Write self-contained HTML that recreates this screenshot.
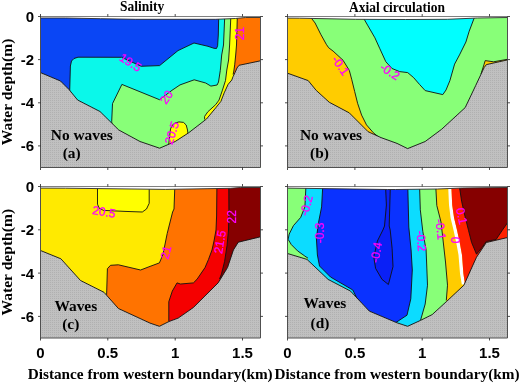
<!DOCTYPE html>
<html><head><meta charset="utf-8"><title>Salinity and axial circulation</title>
<style>html,body{margin:0;padding:0;background:#fff;}svg{display:block;}</style></head>
<body><svg width="520" height="383" viewBox="0 0 520 383">
<defs><pattern id="gp" width="2" height="2" patternUnits="userSpaceOnUse"><rect width="2" height="2" fill="#c0c0c0"/><rect width="1" height="1" fill="#b0b0b0"/></pattern><clipPath id="cla"><rect x="40.5" y="16.5" width="220.0" height="151.0"/></clipPath><clipPath id="clb"><rect x="287.5" y="16.5" width="220.0" height="151.0"/></clipPath><clipPath id="clc"><rect x="40.5" y="186.5" width="220.0" height="151.5"/></clipPath><clipPath id="cld"><rect x="287.5" y="186.5" width="220.0" height="151.5"/></clipPath></defs>
<rect width="520" height="383" fill="#fff"/>
<g clip-path="url(#cla)"><rect x="40.5" y="17.2" width="220.0" height="150.3" fill="#0a46f5"/><polygon points="218.7,17.2 218.3,35.0 217.6,45.8 216.5,48.5 214.0,48.3 208.0,46.3 194.0,43.0 178.0,50.6 159.6,65.6 141.2,66.3 121.5,57.3 78.0,57.2 74.0,58.5 71.5,61.0 70.4,66.0 70.0,80.0 69.7,91.0 60.0,170.0 262.0,170.0 262.0,17.2" fill="#0af8ea"/><polygon points="224.7,17.2 223.5,45.0 221.7,55.0 220.3,70.4 218.5,82.0 217.1,85.0 210.9,86.1 205.7,83.0 194.2,79.8 180.0,84.9 172.0,90.3 159.5,99.7 121.9,84.4 112.5,103.6 111.7,121.6 112.0,124.0 105.0,170.0 262.0,170.0 262.0,17.2" fill="#88ff78"/><polygon points="230.8,17.2 229.6,45.0 228.6,60.0 226.8,70.0 225.5,80.5 222.2,90.9 219.0,100.1 215.7,104.6 207.8,111.8 204.6,116.4 204.6,119.5 200.0,170.0 262.0,170.0 262.0,17.2" fill="#ffff00"/><polygon points="168.5,146.0 170.5,129.0 172.0,125.5 175.0,123.0 179.0,121.9 183.5,122.4 186.2,125.0 187.5,130.0 188.0,134.0 188.0,150.0 168.0,150.0" fill="#ffff00"/><polygon points="237.3,17.2 236.5,45.0 235.7,55.0 234.7,64.8 233.7,72.0 233.1,74.5 240.0,74.0 262.0,60.0 262.0,17.2" fill="#ff7300"/><polyline points="218.7,17.2 218.3,35.0 217.6,45.8 216.5,48.5 214.0,48.3 208.0,46.3 194.0,43.0 178.0,50.6 159.6,65.6 141.2,66.3 121.5,57.3 78.0,57.2 74.0,58.5 71.5,61.0 70.4,66.0 70.0,80.0 69.7,91.0" fill="none" stroke="#111" stroke-width="0.9" stroke-linejoin="round"/><polyline points="224.7,17.2 223.5,45.0 221.7,55.0 220.3,70.4 218.5,82.0 217.1,85.0 210.9,86.1 205.7,83.0 194.2,79.8 180.0,84.9 172.0,90.3 159.5,99.7 121.9,84.4 112.5,103.6 111.7,121.6 112.0,124.0" fill="none" stroke="#111" stroke-width="0.9" stroke-linejoin="round"/><polyline points="230.8,17.2 229.6,45.0 228.6,60.0 226.8,70.0 225.5,80.5 222.2,90.9 219.0,100.1 215.7,104.6 207.8,111.8 204.6,116.4 204.6,119.5" fill="none" stroke="#111" stroke-width="0.9" stroke-linejoin="round"/><polyline points="168.5,146.0 170.5,129.0 172.0,125.5 175.0,123.0 179.0,121.9 183.5,122.4 186.2,125.0 187.5,130.0 188.0,134.0" fill="none" stroke="#111" stroke-width="0.9" stroke-linejoin="round"/><polyline points="237.3,17.2 236.5,45.0 235.7,55.0 234.7,64.8 233.7,72.0 233.1,74.5" fill="none" stroke="#111" stroke-width="0.9" stroke-linejoin="round"/><polygon points="40.5,72.6 60.5,81.0 69.0,89.5 77.6,100.0 100.0,111.5 118.8,130.0 140.0,141.5 159.6,148.2 175.2,141.5 188.5,132.9 206.5,119.0 215.7,107.9 220.9,101.4 224.2,92.9 228.1,84.4 231.8,80.0 233.1,76.5 235.0,72.6 237.0,68.0 239.0,65.3 260.5,60.8 262.0,170.0 39.0,170.0" fill="url(#gp)"/><polyline points="40.5,72.6 60.5,81.0 69.0,89.5 77.6,100.0 100.0,111.5 118.8,130.0 140.0,141.5 159.6,148.2 175.2,141.5 188.5,132.9 206.5,119.0 215.7,107.9 220.9,101.4 224.2,92.9 228.1,84.4 231.8,80.0 233.1,76.5 235.0,72.6 237.0,68.0 239.0,65.3 260.5,60.8" fill="none" stroke="#111" stroke-width="0.9" stroke-linejoin="round"/><text x="130.4" y="62.6" transform="rotate(32 130.4 62.6)" font-family="Liberation Sans, Arial, sans-serif" font-size="12" fill="#ff00ff" stroke="#ff00ff" stroke-width="0.3" text-anchor="middle" dominant-baseline="central">19.5</text><text x="166.5" y="97.3" transform="rotate(-55 166.5 97.3)" font-family="Liberation Sans, Arial, sans-serif" font-size="12" fill="#ff00ff" stroke="#ff00ff" stroke-width="0.3" text-anchor="middle" dominant-baseline="central">20</text><text x="239.6" y="33.5" transform="rotate(-90 239.6 33.5)" font-family="Liberation Sans, Arial, sans-serif" font-size="12" fill="#ff00ff" stroke="#ff00ff" stroke-width="0.3" text-anchor="middle" dominant-baseline="central">21</text><text x="172" y="133" transform="rotate(-72 172 133)" font-family="Liberation Sans, Arial, sans-serif" font-size="12" fill="#ff00ff" stroke="#ff00ff" stroke-width="0.3" text-anchor="middle" dominant-baseline="central">20.5</text></g><g clip-path="url(#cla)"><polygon points="40.5,18.0 65.5,18.0 100.5,18.7 135.5,19.3 215.5,19.3 235.5,18.5 245.5,17.5 260.5,17.5 261.5,15.5 39.5,15.5" fill="#fff"/><polyline points="40.5,18.0 65.5,18.0 100.5,18.7 135.5,19.3 215.5,19.3 235.5,18.5 245.5,17.5 260.5,17.5" fill="none" stroke="#2a2a2a" stroke-width="0.9" stroke-linejoin="round"/></g><path d="M40.0,16.5h221.0" stroke="#808080" stroke-width="1"/><path d="M40.5,16.5V167.5H260.5V16.5" fill="none" stroke="#505050" stroke-width="1"/><path d="M40.5,167.5v2.5M40.5,16.5v-2.5M107.8,167.5v2.5M107.8,16.5v-2.5M175.2,167.5v2.5M175.2,16.5v-2.5M242.5,167.5v2.5M242.5,16.5v-2.5M40.5,16.5h-2.5M260.5,16.5h2.5M40.5,59.6h-2.5M260.5,59.6h2.5M40.5,102.8h-2.5M260.5,102.8h2.5M40.5,145.9h-2.5M260.5,145.9h2.5" stroke="#222" stroke-width="0.8" fill="none"/><g clip-path="url(#clb)"><rect x="287.5" y="17.2" width="220.0" height="150.3" fill="#88ff78"/><polygon points="310.6,17.2 315.1,23.0 320.7,34.2 326.3,44.3 328.6,47.7 333.1,51.1 343.0,60.2 349.3,70.4 351.8,79.8 354.7,91.6 357.6,103.3 361.6,115.1 366.5,124.9 373.3,132.7 378.2,136.7 380.0,170.0 286.0,170.0 286.0,17.2" fill="#ffcc00"/><polygon points="363.0,17.2 368.0,25.9 374.9,37.8 379.9,48.8 385.8,61.7 392.0,68.5 399.7,71.6 407.7,72.6 413.6,77.6 419.6,84.5 425.2,90.6 442.8,94.6 446.0,90.0 449.9,80.6 454.6,64.1 459.5,54.9 465.9,42.0 469.2,31.2 474.5,17.2" fill="#00ffff"/><polygon points="481.0,74.0 484.0,64.5 485.2,60.6 493.5,61.8 508.0,59.2 508.0,70.0 481.0,80.0" fill="#ffcc00"/><polyline points="310.6,17.2 315.1,23.0 320.7,34.2 326.3,44.3 328.6,47.7 333.1,51.1 343.0,60.2 349.3,70.4 351.8,79.8 354.7,91.6 357.6,103.3 361.6,115.1 366.5,124.9 373.3,132.7 378.2,136.7" fill="none" stroke="#111" stroke-width="0.9" stroke-linejoin="round"/><polyline points="363.0,17.2 368.0,25.9 374.9,37.8 379.9,48.8 385.8,61.7 392.0,68.5 399.7,71.6 407.7,72.6 413.6,77.6 419.6,84.5 425.2,90.6 442.8,94.6 446.0,90.0 449.9,80.6 454.6,64.1 459.5,54.9 465.9,42.0 469.2,31.2 474.5,17.2" fill="none" stroke="#111" stroke-width="0.9" stroke-linejoin="round"/><polyline points="481.0,74.0 484.0,64.5 485.2,60.6 493.5,61.8 508.0,59.2" fill="none" stroke="#111" stroke-width="0.9" stroke-linejoin="round"/><polygon points="287.5,73.2 308.2,80.6 316.2,90.4 329.3,102.3 349.3,112.9 368.1,131.7 381.0,137.6 397.0,143.4 407.6,148.6 425.2,141.5 441.6,129.3 465.2,107.6 475.8,85.3 484.1,67.6 486.4,64.6 507.6,59.9 509.0,170.0 286.0,170.0" fill="url(#gp)"/><polyline points="287.5,73.2 308.2,80.6 316.2,90.4 329.3,102.3 349.3,112.9 368.1,131.7 381.0,137.6 397.0,143.4 407.6,148.6 425.2,141.5 441.6,129.3 465.2,107.6 475.8,85.3 484.1,67.6 486.4,64.6 507.6,59.9" fill="none" stroke="#111" stroke-width="0.9" stroke-linejoin="round"/><text x="340.5" y="65.7" transform="rotate(55 340.5 65.7)" font-family="Liberation Sans, Arial, sans-serif" font-size="12" fill="#ff00ff" stroke="#ff00ff" stroke-width="0.3" text-anchor="middle" dominant-baseline="central">-0.1</text><text x="389.8" y="71.6" transform="rotate(33 389.8 71.6)" font-family="Liberation Sans, Arial, sans-serif" font-size="12" fill="#ff00ff" stroke="#ff00ff" stroke-width="0.3" text-anchor="middle" dominant-baseline="central">-0.2</text></g><g clip-path="url(#clb)"><polygon points="287.5,18.1 299.5,18.2 355.5,19.3 405.5,19.5 447.5,19.3 477.5,18.0 507.5,17.5 508.5,15.5 286.5,15.5" fill="#fff"/><polyline points="287.5,18.1 299.5,18.2 355.5,19.3 405.5,19.5 447.5,19.3 477.5,18.0 507.5,17.5" fill="none" stroke="#2a2a2a" stroke-width="0.9" stroke-linejoin="round"/></g><path d="M287.0,16.5h221.0" stroke="#808080" stroke-width="1"/><path d="M287.5,16.5V167.5H507.5V16.5" fill="none" stroke="#505050" stroke-width="1"/><path d="M287.5,167.5v2.5M287.5,16.5v-2.5M354.9,167.5v2.5M354.9,16.5v-2.5M422.2,167.5v2.5M422.2,16.5v-2.5M489.5,167.5v2.5M489.5,16.5v-2.5M287.5,16.5h-2.5M507.5,16.5h2.5M287.5,59.6h-2.5M507.5,59.6h2.5M287.5,102.8h-2.5M507.5,102.8h2.5M287.5,145.9h-2.5M507.5,145.9h2.5" stroke="#222" stroke-width="0.8" fill="none"/><g clip-path="url(#clc)"><rect x="40.5" y="187.2" width="220.0" height="150.8" fill="#ffea00"/><polygon points="97.5,187.2 97.5,204.1 99.0,208.0 103.5,210.4 125.0,211.4 142.3,212.0 146.5,209.0 149.2,203.3 149.2,187.2" fill="#ffff00"/><polygon points="174.8,187.2 174.0,209.0 172.6,212.0 167.2,233.5 162.9,254.7 159.4,262.9 150.0,266.4 140.6,270.0 118.4,264.8 110.5,265.3 107.4,268.7 106.6,294.9 100.0,345.0 262.0,345.0 262.0,187.2" fill="#ff7300"/><polygon points="216.9,187.2 216.6,216.0 216.0,230.0 214.0,241.0 212.0,250.0 208.5,259.4 205.0,267.6 197.0,279.3 193.4,282.9 180.5,284.0 177.0,282.9 172.3,291.1 168.8,301.7 168.8,321.6 168.0,345.0 262.0,345.0 262.0,187.2" fill="#f50000"/><polygon points="228.8,187.2 228.9,209.8 228.5,230.0 227.0,245.7 224.6,261.4 221.5,273.9 219.5,279.0 240.0,280.0 262.0,237.0 262.0,187.2" fill="#860000"/><polyline points="97.5,187.2 97.5,204.1 99.0,208.0 103.5,210.4 125.0,211.4 142.3,212.0 146.5,209.0 149.2,203.3 149.2,187.2" fill="none" stroke="#111" stroke-width="0.9" stroke-linejoin="round"/><polyline points="174.8,187.2 174.0,209.0 172.6,212.0 167.2,233.5 162.9,254.7 159.4,262.9 150.0,266.4 140.6,270.0 118.4,264.8 110.5,265.3 107.4,268.7 106.6,294.9" fill="none" stroke="#111" stroke-width="0.9" stroke-linejoin="round"/><polyline points="216.9,187.2 216.6,216.0 216.0,230.0 214.0,241.0 212.0,250.0 208.5,259.4 205.0,267.6 197.0,279.3 193.4,282.9 180.5,284.0 177.0,282.9 172.3,291.1 168.8,301.7 168.8,321.6" fill="none" stroke="#111" stroke-width="0.9" stroke-linejoin="round"/><polyline points="228.8,187.2 228.9,209.8 228.5,230.0 227.0,245.7 224.6,261.4 221.5,273.9 219.5,279.0" fill="none" stroke="#111" stroke-width="0.9" stroke-linejoin="round"/><polygon points="40.5,250.5 60.9,258.8 80.5,280.5 104.0,292.3 118.4,308.5 150.0,323.1 159.4,326.3 168.8,321.6 178.2,318.1 193.4,307.5 218.1,282.9 227.5,267.6 233.4,250.0 238.3,242.2 260.5,236.8 262.0,345.0 39.0,345.0" fill="url(#gp)"/><polyline points="40.5,250.5 60.9,258.8 80.5,280.5 104.0,292.3 118.4,308.5 150.0,323.1 159.4,326.3 168.8,321.6 178.2,318.1 193.4,307.5 218.1,282.9 227.5,267.6 233.4,250.0 238.3,242.2 260.5,236.8" fill="none" stroke="#111" stroke-width="0.9" stroke-linejoin="round"/><text x="104" y="212" transform="rotate(10 104 212)" font-family="Liberation Sans, Arial, sans-serif" font-size="12" fill="#ff00ff" stroke="#ff00ff" stroke-width="0.3" text-anchor="middle" dominant-baseline="central">20.5</text><text x="166" y="252.5" transform="rotate(-75 166 252.5)" font-family="Liberation Sans, Arial, sans-serif" font-size="12" fill="#ff00ff" stroke="#ff00ff" stroke-width="0.3" text-anchor="middle" dominant-baseline="central">21</text><text x="220" y="242" transform="rotate(-80 220 242)" font-family="Liberation Sans, Arial, sans-serif" font-size="12" fill="#ff00ff" stroke="#ff00ff" stroke-width="0.3" text-anchor="middle" dominant-baseline="central">21.5</text><text x="232.3" y="216.8" transform="rotate(-90 232.3 216.8)" font-family="Liberation Sans, Arial, sans-serif" font-size="12" fill="#ff00ff" stroke="#ff00ff" stroke-width="0.3" text-anchor="middle" dominant-baseline="central">22</text></g><g clip-path="url(#clc)"><polygon points="40.5,188.1 65.5,188.2 165.5,189.4 230.5,188.3 240.5,187.5 260.5,187.5 261.5,185.5 39.5,185.5" fill="#fff"/><polyline points="40.5,188.1 65.5,188.2 165.5,189.4 230.5,188.3 240.5,187.5 260.5,187.5" fill="none" stroke="#2a2a2a" stroke-width="0.9" stroke-linejoin="round"/></g><path d="M40.0,186.5h221.0" stroke="#808080" stroke-width="1"/><path d="M40.5,186.5V338.0H260.5V186.5" fill="none" stroke="#505050" stroke-width="1"/><path d="M40.5,338.0v2.5M40.5,186.5v-2.5M107.8,338.0v2.5M107.8,186.5v-2.5M175.2,338.0v2.5M175.2,186.5v-2.5M242.5,338.0v2.5M242.5,186.5v-2.5M40.5,186.5h-2.5M260.5,186.5h2.5M40.5,229.8h-2.5M260.5,229.8h2.5M40.5,273.1h-2.5M260.5,273.1h2.5M40.5,316.4h-2.5M260.5,316.4h2.5" stroke="#222" stroke-width="0.8" fill="none"/><g clip-path="url(#cld)"><rect x="287.5" y="187.2" width="220.0" height="150.8" fill="#88ff78"/><polygon points="305.9,187.2 304.9,206.9 300.7,217.4 293.4,225.7 289.2,234.1 288.1,239.3 291.3,244.6 297.6,250.9 304.9,256.1 308.0,258.2 308.0,300.0 420.0,330.0 420.5,320.4 425.2,304.0 427.5,285.2 426.1,250.0 422.8,231.4 420.3,209.8 419.6,187.2" fill="#0cdcff"/><polygon points="322.7,187.2 321.6,206.9 318.5,222.6 316.4,238.3 317.4,255.0 319.5,266.0 330.5,277.0 352.8,290.0 357.5,299.5 370.4,313.0 394.4,323.5 407.0,315.2 410.8,298.8 412.3,270.0 411.1,250.0 408.8,227.1 407.8,187.2" fill="#0a32ff"/><polygon points="385.6,187.2 386.4,205.0 384.5,226.0 382.9,230.0 377.4,241.0 373.8,257.4 375.6,268.4 382.0,279.4 388.4,284.5 393.0,266.6 392.1,248.3 390.2,230.0 389.2,226.0 390.3,187.2" fill="#0a20f6"/><polygon points="435.8,187.2 436.8,205.5 441.0,222.0 445.5,262.0 447.5,285.2 446.3,300.5 446.0,330.0 470.0,330.0 508.0,187.2" fill="#ffcc00"/><polygon points="448.2,187.2 449.0,205.0 450.6,218.0 453.5,230.0 456.5,244.0 458.5,255.0 460.0,273.5 461.8,284.5 465.0,284.5 463.4,273.5 462.0,255.0 460.0,244.0 457.0,230.0 454.1,218.0 452.2,205.0 451.4,187.2" fill="#ffffff"/><polygon points="451.4,187.2 452.2,205.0 454.1,218.0 457.0,230.0 460.0,244.0 462.0,255.0 463.4,273.5 465.0,284.5 470.0,290.0 508.0,250.0 508.0,187.2" fill="#ff2200"/><polygon points="459.5,187.2 461.6,201.2 464.7,215.0 468.6,230.7 471.6,242.5 476.5,254.2 481.4,248.3 486.3,241.5 496.1,239.5 502.0,230.7 507.5,222.8 508.0,187.2" fill="#860000"/><polyline points="305.9,187.2 304.9,206.9 300.7,217.4 293.4,225.7 289.2,234.1 288.1,239.3 291.3,244.6 297.6,250.9 304.9,256.1 308.0,258.2" fill="none" stroke="#111" stroke-width="0.9" stroke-linejoin="round"/><polyline points="419.6,187.2 420.3,209.8 422.8,231.4 426.1,250.0 427.5,285.2 425.2,304.0 420.5,320.4" fill="none" stroke="#111" stroke-width="0.9" stroke-linejoin="round"/><polyline points="322.7,187.2 321.6,206.9 318.5,222.6 316.4,238.3 317.4,255.0 319.5,266.0 330.5,277.0 352.8,290.0 357.5,299.5 370.4,313.0 394.4,323.5 407.0,315.2 410.8,298.8 412.3,270.0 411.1,250.0 408.8,227.1 407.8,187.2" fill="none" stroke="#111" stroke-width="0.9" stroke-linejoin="round"/><polyline points="385.6,187.2 386.4,205.0 384.5,226.0 382.9,230.0 377.4,241.0 373.8,257.4 375.6,268.4 382.0,279.4 388.4,284.5 393.0,266.6 392.1,248.3 390.2,230.0 389.2,226.0 390.3,187.2" fill="none" stroke="#111" stroke-width="0.9" stroke-linejoin="round"/><polyline points="435.8,187.2 436.8,205.5 441.0,222.0 445.5,262.0 447.5,285.2 446.3,300.5" fill="none" stroke="#111" stroke-width="0.9" stroke-linejoin="round"/><polyline points="459.5,187.2 461.6,201.2 464.7,215.0 468.6,230.7 471.6,242.5 476.5,254.2 481.4,248.3 486.3,241.5 496.1,239.5 502.0,230.7 507.5,222.8" fill="none" stroke="#111" stroke-width="0.9" stroke-linejoin="round"/><polygon points="287.5,253.5 307.0,259.4 328.1,279.4 350.5,291.1 369.3,311.1 397.0,322.8 407.6,326.3 420.5,320.4 432.2,314.6 446.3,301.7 463.9,285.2 471.6,268.0 476.5,257.2 486.3,242.5 507.5,237.5 509.0,345.0 286.0,345.0" fill="url(#gp)"/><polyline points="287.5,253.5 307.0,259.4 328.1,279.4 350.5,291.1 369.3,311.1 397.0,322.8 407.6,326.3 420.5,320.4 432.2,314.6 446.3,301.7 463.9,285.2 471.6,268.0 476.5,257.2 486.3,242.5 507.5,237.5" fill="none" stroke="#111" stroke-width="0.9" stroke-linejoin="round"/><text x="306.5" y="205.6" transform="rotate(-75 306.5 205.6)" font-family="Liberation Sans, Arial, sans-serif" font-size="12" fill="#ff00ff" stroke="#ff00ff" stroke-width="0.3" text-anchor="middle" dominant-baseline="central">-0.2</text><text x="319.8" y="233" transform="rotate(-90 319.8 233)" font-family="Liberation Sans, Arial, sans-serif" font-size="12" fill="#ff00ff" stroke="#ff00ff" stroke-width="0.3" text-anchor="middle" dominant-baseline="central">-0.3</text><text x="376.5" y="252.4" transform="rotate(-80 376.5 252.4)" font-family="Liberation Sans, Arial, sans-serif" font-size="12" fill="#ff00ff" stroke="#ff00ff" stroke-width="0.3" text-anchor="middle" dominant-baseline="central">-0.4</text><text x="421.2" y="241" transform="rotate(85 421.2 241)" font-family="Liberation Sans, Arial, sans-serif" font-size="12" fill="#ff00ff" stroke="#ff00ff" stroke-width="0.3" text-anchor="middle" dominant-baseline="central">-0.2</text><text x="440.6" y="229.3" transform="rotate(83 440.6 229.3)" font-family="Liberation Sans, Arial, sans-serif" font-size="12" fill="#ff00ff" stroke="#ff00ff" stroke-width="0.3" text-anchor="middle" dominant-baseline="central">-0.1</text><text x="455.3" y="240" transform="rotate(90 455.3 240)" font-family="Liberation Sans, Arial, sans-serif" font-size="12" fill="#ff00ff" stroke="#ff00ff" stroke-width="0.3" text-anchor="middle" dominant-baseline="central">0</text><text x="461.5" y="216" transform="rotate(78 461.5 216)" font-family="Liberation Sans, Arial, sans-serif" font-size="12" fill="#ff00ff" stroke="#ff00ff" stroke-width="0.3" text-anchor="middle" dominant-baseline="central">0.1</text></g><g clip-path="url(#cld)"><polygon points="287.5,188.1 387.5,189.5 395.5,189.5 437.5,189.0 462.5,188.0 507.5,187.5 508.5,185.5 286.5,185.5" fill="#fff"/><polyline points="287.5,188.1 387.5,189.5 395.5,189.5 437.5,189.0 462.5,188.0 507.5,187.5" fill="none" stroke="#2a2a2a" stroke-width="0.9" stroke-linejoin="round"/></g><path d="M287.0,186.5h221.0" stroke="#808080" stroke-width="1"/><path d="M287.5,186.5V338.0H507.5V186.5" fill="none" stroke="#505050" stroke-width="1"/><path d="M287.5,338.0v2.5M287.5,186.5v-2.5M354.9,338.0v2.5M354.9,186.5v-2.5M422.2,338.0v2.5M422.2,186.5v-2.5M489.5,338.0v2.5M489.5,186.5v-2.5M287.5,186.5h-2.5M507.5,186.5h2.5M287.5,229.8h-2.5M507.5,229.8h2.5M287.5,273.1h-2.5M507.5,273.1h2.5M287.5,316.4h-2.5M507.5,316.4h2.5" stroke="#222" stroke-width="0.8" fill="none"/>
<text transform="translate(142 10.8) scale(1 1.12)" font-family="Liberation Serif, Times New Roman, serif" font-weight="bold" font-size="13.5" text-anchor="middle">Salinity</text><text transform="translate(397 11.6) scale(1 1.12)" font-family="Liberation Serif, Times New Roman, serif" font-weight="bold" font-size="13.5" text-anchor="middle">Axial circulation</text><text x="11.6" y="92" transform="rotate(-90 11.6 92)" font-family="Liberation Serif, Times New Roman, serif" font-weight="bold" font-size="15.6" text-anchor="middle">Water depth(m)</text><text x="11.6" y="262.2" transform="rotate(-90 11.6 262.2)" font-family="Liberation Serif, Times New Roman, serif" font-weight="bold" font-size="15.6" text-anchor="middle">Water depth(m)</text><text x="150.2" y="378.8" font-family="Liberation Serif, Times New Roman, serif" font-weight="bold" font-size="15.25" text-anchor="middle">Distance from western boundary(km)</text><text x="397" y="378.8" font-family="Liberation Serif, Times New Roman, serif" font-weight="bold" font-size="15.25" text-anchor="middle">Distance from western boundary(km)</text><text x="40.5" y="358" font-family="Liberation Sans, Arial, sans-serif" font-weight="bold" font-size="15" text-anchor="middle">0</text><text x="107.8" y="358" font-family="Liberation Sans, Arial, sans-serif" font-weight="bold" font-size="15" text-anchor="middle">0.5</text><text x="175.2" y="358" font-family="Liberation Sans, Arial, sans-serif" font-weight="bold" font-size="15" text-anchor="middle">1</text><text x="242.5" y="358" font-family="Liberation Sans, Arial, sans-serif" font-weight="bold" font-size="15" text-anchor="middle">1.5</text><text x="287.5" y="358" font-family="Liberation Sans, Arial, sans-serif" font-weight="bold" font-size="15" text-anchor="middle">0</text><text x="354.9" y="358" font-family="Liberation Sans, Arial, sans-serif" font-weight="bold" font-size="15" text-anchor="middle">0.5</text><text x="422.2" y="358" font-family="Liberation Sans, Arial, sans-serif" font-weight="bold" font-size="15" text-anchor="middle">1</text><text x="489.5" y="358" font-family="Liberation Sans, Arial, sans-serif" font-weight="bold" font-size="15" text-anchor="middle">1.5</text><text x="34.2" y="21.9" font-family="Liberation Sans, Arial, sans-serif" font-weight="bold" font-size="15" text-anchor="end">0</text><text x="34.2" y="65.0" font-family="Liberation Sans, Arial, sans-serif" font-weight="bold" font-size="15" text-anchor="end">-2</text><text x="34.2" y="108.2" font-family="Liberation Sans, Arial, sans-serif" font-weight="bold" font-size="15" text-anchor="end">-4</text><text x="34.2" y="151.3" font-family="Liberation Sans, Arial, sans-serif" font-weight="bold" font-size="15" text-anchor="end">-6</text><text x="34.2" y="191.9" font-family="Liberation Sans, Arial, sans-serif" font-weight="bold" font-size="15" text-anchor="end">0</text><text x="34.2" y="235.2" font-family="Liberation Sans, Arial, sans-serif" font-weight="bold" font-size="15" text-anchor="end">-2</text><text x="34.2" y="278.5" font-family="Liberation Sans, Arial, sans-serif" font-weight="bold" font-size="15" text-anchor="end">-4</text><text x="34.2" y="321.8" font-family="Liberation Sans, Arial, sans-serif" font-weight="bold" font-size="15" text-anchor="end">-6</text><text x="50.8" y="139.5" font-family="Liberation Serif, Times New Roman, serif" font-weight="bold" font-size="15.4">No waves</text><text x="62.7" y="158" font-family="Liberation Serif, Times New Roman, serif" font-weight="bold" font-size="15.4">(a)</text><text x="300" y="139.5" font-family="Liberation Serif, Times New Roman, serif" font-weight="bold" font-size="15.4">No waves</text><text x="310" y="158" font-family="Liberation Serif, Times New Roman, serif" font-weight="bold" font-size="15.4">(b)</text><text x="54.4" y="310.5" font-family="Liberation Serif, Times New Roman, serif" font-weight="bold" font-size="15.4">Waves</text><text x="62.2" y="329" font-family="Liberation Serif, Times New Roman, serif" font-weight="bold" font-size="15.4">(c)</text><text x="303.5" y="307.5" font-family="Liberation Serif, Times New Roman, serif" font-weight="bold" font-size="15.4">Waves</text><text x="310.5" y="327.5" font-family="Liberation Serif, Times New Roman, serif" font-weight="bold" font-size="15.4">(d)</text>
</svg></body></html>
